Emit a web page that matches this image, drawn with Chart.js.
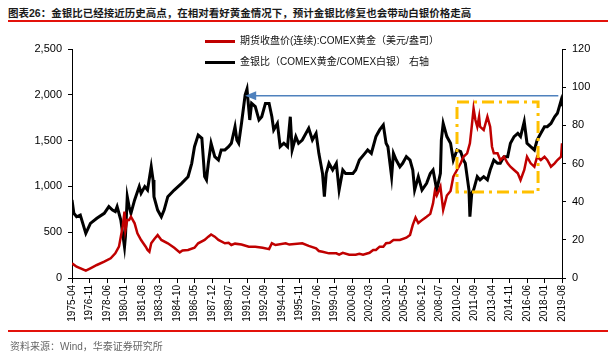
<!DOCTYPE html>
<html>
<head>
<meta charset="utf-8">
<script src="https://cdn.jsdelivr.net/npm/chart.js@4.4.0/dist/chart.umd.min.js"></script>
<style>
  body { margin: 0; background: #fff; width: 615px; height: 360px; position: relative; overflow: hidden;
         font-family: "Liberation Sans", "Noto Sans CJK SC", sans-serif; }
  #title { position: absolute; left: 8px; top: 5px; font-size: 10.5px; font-weight: bold; color: #1a1a1a; white-space: nowrap; }
  .rule { position: absolute; left: 8px; width: 600px; height: 2px; background: #e3120b; }
  #source { position: absolute; left: 10px; top: 338px; font-size: 10px; color: #666; white-space: nowrap; }
  .leg { position: absolute; left: 205px; font-size: 10px; color: #111; white-space: nowrap; }
  .leg i { display: inline-block; width: 30px; height: 3px; vertical-align: middle; margin-right: 5px; }
  canvas { position: absolute; left: 0; top: 0; }
</style>
</head>
<body>
<div id="title">图表26：金银比已经接近历史高点，在相对看好黄金情况下，预计金银比修复也会带动白银价格走高</div>
<div class="rule" style="top:20px"></div>
<canvas id="chart" width="615" height="360"></canvas>
<div class="leg" style="top:32px"><i style="background:#c00000"></i>期货收盘价(连续):COMEX黄金（美元/盎司）</div>
<div class="leg" style="top:53px"><i style="background:#000"></i>金银比（COMEX黄金/COMEX白银） 右轴</div>
<div class="rule" style="top:330px"></div>
<div id="source">资料来源：Wind，华泰证券研究所</div>

<script>
// x 轴刻度（每 19 个月一个）
const tickLabels = ['1975-04','1976-11','1978-06','1980-01','1981-08','1983-03','1984-10','1986-05','1987-12',
  '1989-07','1991-02','1992-09','1994-04','1995-11','1997-06','1999-01','2000-08','2002-03','2003-10',
  '2005-05','2006-12','2008-07','2010-02','2011-09','2013-04','2014-11','2016-06','2018-01','2019-08'];

// 月份序号 = 距 1975-04 的月数
const goldMonths = [0,5,15,20,27,35,42,47,51,53,55,57,58,60,62,64,68,71,75,80,82,84,86,89,93,97,104,111,117,120,
  126,133,137,144,148,151,155,159,166,170,173,177,184,192,199,207,214,217,221,232,236,250,257,265,268,272,279,
  287,290,294,301,308,312,316,323,327,330,334,338,341,345,349,356,363,367,370,373,376,381,385,389,392,394,396,
  400,403,407,411,414,418,422,425,429,432,434,436,438,440,442,443,447,451,454,456,458,462,465,469,473,476,480,
  484,487,491,494,498,502,505,509,513,516,520,524,527,531,532];
const goldPrice = [160,124,80,106,142,178,215,269,342,451,560,724,524,633,633,669,597,488,415,342,306,287,379,420,
  469,415,379,330,280,300,306,330,379,415,451,475,451,415,379,385,360,375,365,342,342,330,315,379,360,379,365,379,
  350,324,295,287,269,269,255,275,255,255,265,255,275,306,306,342,342,379,385,415,415,440,470,580,660,600,640,669,
  700,815,950,900,997,742,900,950,1106,1179,1252,1324,1361,1470,1652,1850,1725,1652,1761,1652,1616,1761,1652,1433,
  1361,1361,1288,1324,1252,1215,1179,1143,1070,1179,1324,1252,1215,1324,1288,1324,1288,1215,1252,1288,1324,1470];

const ratioMonths = [0,2,5,9,15,20,27,35,40,44,47,49,53,55,57,58,60,62,64,68,73,75,79,82,86,88,89,93,97,100,104,
  111,119,126,130,133,137,141,144,146,148,151,155,159,162,166,170,173,177,179,181,184,188,190,193,195,199,203,206,
  210,214,217,219,223,226,230,234,237,239,243,246,250,257,261,265,268,272,274,276,279,283,287,290,294,297,305,308,
  312,318,321,325,327,330,334,338,341,343,347,349,352,356,359,363,367,370,372,376,380,385,389,392,396,400,401,403,
  407,411,414,418,422,425,427,429,431,432,434,436,440,443,447,451,454,458,462,465,469,473,476,480,484,487,491,494,
  498,502,505,509,513,516,520,524,527,531,532];
const ratioValue = [40.9,33.9,32.1,33.0,23.4,28.6,31.3,33.9,37.4,35.6,34.8,37.4,30.4,23.4,16.4,21.7,42.6,37.4,33.9,
  40.9,47.9,44.4,47.9,46.1,58.3,51.4,42.6,35.6,32.1,35.6,42.6,46.1,49.6,53.1,60.1,68.8,74.9,73.2,53.1,51.4,60.1,
  70.6,63.6,61.8,67.1,67.1,68.8,70.6,79.3,72.3,70.6,81.0,96.0,99.0,82.8,91.5,89.8,82.8,84.5,91.5,91.5,84.5,77.6,
  81.0,68.8,70.6,68.8,84.5,67.1,74.1,70.6,72.3,78.4,72.3,75.8,65.3,54.8,42.6,54.8,60.1,56.6,60.1,46.1,56.6,54.8,
  54.8,56.6,61.8,65.3,67.1,65.3,68.8,74.1,77.6,80.2,70.6,68.8,53.1,65.3,61.8,58.3,60.1,63.6,61.8,56.6,46.1,53.1,
  46.1,49.6,54.8,56.6,46.1,54.8,72.3,81.0,74.1,70.6,61.8,67.1,66.2,61.8,60.1,53.1,46.1,32.1,44.4,46.1,53.1,51.4,
  53.1,51.4,56.6,61.8,60.1,60.1,63.6,63.6,70.6,74.1,75.8,74.1,81.9,70.6,68.8,67.1,72.3,75.8,79.3,79.3,81.0,84.5,
  86.3,93.0,90.0];

// 标注：蓝色箭头（右轴）与黄色点划线框（右轴）
const arrowNote = { from: 188, to: 528, level: 95.5 };
const boxNote = { from: 418, to: 506, top: 92.2, bottom: 45.1 };

const toMonth = (s) => (parseInt(s.slice(0, 4)) - 1975) * 12 + parseInt(s.slice(5, 7)) - 4;
const tickMonths = tickLabels.map(toMonth);
const toPoints = (xs, ys) => xs.map((x, i) => ({ x: x, y: ys[i] }));

const notes = {
  id: 'notes',
  afterDatasetsDraw(chart) {
    const ctx = chart.ctx;
    const x = chart.scales.x, r = chart.scales.y1;
    ctx.save();
    // 箭头
    const ay = r.getPixelForValue(arrowNote.level);
    const ax0 = x.getPixelForValue(arrowNote.from), ax1 = x.getPixelForValue(arrowNote.to);
    ctx.strokeStyle = '#4f81bd';
    ctx.fillStyle = '#4f81bd';
    ctx.lineWidth = 1.5;
    ctx.beginPath();
    ctx.moveTo(ax0 + 8, ay);
    ctx.lineTo(ax1, ay);
    ctx.stroke();
    ctx.beginPath();
    ctx.moveTo(ax0, ay);
    ctx.lineTo(ax0 + 11, ay - 4.5);
    ctx.lineTo(ax0 + 11, ay + 4.5);
    ctx.closePath();
    ctx.fill();
    // 点划线框
    const bx0 = x.getPixelForValue(boxNote.from), bx1 = x.getPixelForValue(boxNote.to);
    const by0 = r.getPixelForValue(boxNote.top), by1 = r.getPixelForValue(boxNote.bottom);
    ctx.strokeStyle = '#ffc000';
    ctx.lineWidth = 3;
    ctx.setLineDash([12, 5, 3, 5]);
    ctx.strokeRect(bx0, by0, bx1 - bx0, by1 - by0);
    ctx.restore();
  }
};

const axisFont = { family: '"Liberation Sans", Arial, sans-serif', size: 11 };

new Chart(document.getElementById('chart'), {
  type: 'line',
  data: {
    datasets: [
      {
        label: '期货收盘价(连续):COMEX黄金（美元/盎司）',
        data: toPoints(goldMonths, goldPrice),
        borderColor: '#c00000',
        borderWidth: 2.5,
        pointRadius: 0,
        yAxisID: 'y',
      },
      {
        label: '金银比（COMEX黄金/COMEX白银） 右轴',
        data: toPoints(ratioMonths, ratioValue),
        borderColor: '#000000',
        borderWidth: 3,
        pointRadius: 0,
        yAxisID: 'y1',
      },
    ],
  },
  options: {
    responsive: false,
    animation: false,
    devicePixelRatio: 1,
    layout: { padding: { top: 49, left: 0, right: 0, bottom: 0 } },
    plugins: { legend: { display: false }, tooltip: { enabled: false } },
    scales: {
      x: {
        type: 'linear',
        min: 0,
        max: 532,
        afterBuildTicks: (s) => { s.ticks = tickMonths.map(v => ({ value: v })); },
        afterFit: (s) => { s.height = 82; },
        ticks: {
          autoSkip: false, minRotation: 90, maxRotation: 90, padding: 2,
          color: '#000', font: { family: axisFont.family, size: 10 },
          callback: (v) => tickLabels[tickMonths.indexOf(v)],
        },
        grid: { drawOnChartArea: false, tickLength: 5, color: '#000' },
        border: { color: '#000' },
      },
      y: {
        position: 'left',
        min: 0,
        max: 2500,
        afterFit: (s) => { s.width = 72; },
        ticks: { stepSize: 500, padding: 6, color: '#000', font: axisFont,
                 callback: (v) => v.toLocaleString('en-US') },
        grid: { drawOnChartArea: false, tickLength: 4, color: '#000' },
        border: { color: '#000' },
      },
      y1: {
        position: 'right',
        min: 0,
        max: 120,
        afterFit: (s) => { s.width = 53; },
        ticks: { stepSize: 20, padding: 6, color: '#000', font: axisFont },
        grid: { drawOnChartArea: false, tickLength: 4, color: '#000' },
        border: { color: '#000' },
      },
    },
  },
  plugins: [notes],
});
</script>
</body>
</html>
